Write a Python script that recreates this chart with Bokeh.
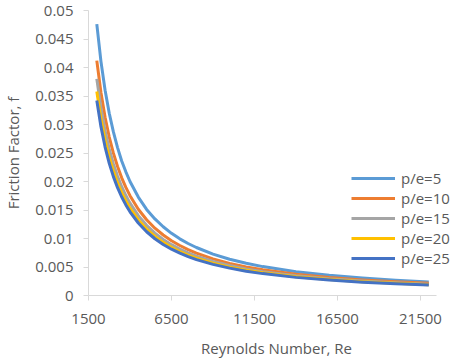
from bokeh.plotting import figure
from bokeh.models import Range1d, FixedTicker, Legend, LegendItem
from bokeh.embed import file_html
from bokeh.resources import INLINE

reynolds = [2000, 2250, 2500, 2750, 3000, 3250, 3500, 3750, 4000, 4500, 5000, 5500,
            6000, 6500, 7000, 7500, 8000, 9000, 10000, 11000, 12000, 14000, 16000,
            18000, 20000, 22000]
pe5 = [0.0476, 0.04108, 0.0360, 0.03197, 0.0287, 0.02595, 0.0236, 0.02170, 0.0200,
       0.01727, 0.0151, 0.01344, 0.01206, 0.01091, 0.00994, 0.00912, 0.00842, 0.00726,
       0.00637, 0.00565, 0.00507, 0.00418, 0.00354, 0.00305, 0.00268, 0.00238]
pe10 = [0.0412, 0.03562, 0.03128, 0.02780, 0.02497, 0.02262, 0.02064, 0.01896, 0.01751,
        0.01513, 0.01329, 0.01181, 0.01061, 0.00961, 0.00877, 0.00805, 0.00744, 0.00643,
        0.00564, 0.00502, 0.00451, 0.00372, 0.00316, 0.00273, 0.00240, 0.00213]
pe15 = [0.0380, 0.03287, 0.02888, 0.02568, 0.02308, 0.02091, 0.01909, 0.01754, 0.01620,
        0.01401, 0.01231, 0.01095, 0.00984, 0.00892, 0.00814, 0.00748, 0.00691, 0.00597,
        0.00525, 0.00467, 0.00419, 0.00347, 0.00294, 0.00255, 0.00224, 0.00199]
pe20 = [0.0358, 0.03099, 0.02724, 0.02423, 0.02179, 0.01975, 0.01804, 0.01658, 0.01532,
        0.01326, 0.01165, 0.01037, 0.00932, 0.00845, 0.00771, 0.00709, 0.00655, 0.00567,
        0.00498, 0.00444, 0.00399, 0.00330, 0.00280, 0.00243, 0.00213, 0.00190]
pe25 = [0.0342, 0.02962, 0.02605, 0.02319, 0.02086, 0.01892, 0.01728, 0.01589, 0.01468,
        0.01272, 0.01118, 0.00996, 0.00895, 0.00812, 0.00742, 0.00682, 0.00630, 0.00546,
        0.00480, 0.00427, 0.00384, 0.00318, 0.00271, 0.00234, 0.00206, 0.00183]
series_names = ["p/e=5", "p/e=10", "p/e=15", "p/e=20", "p/e=25"]
series_values = [pe5, pe10, pe15, pe20, pe25]
colors = ["#5B9BD5", "#ED7D31", "#A5A5A5", "#FFC000", "#4472C4"]
x_ticks = [1500, 6500, 11500, 16500, 21500]
y_ticks = [0, 0.005, 0.01, 0.015, 0.02, 0.025, 0.03, 0.035, 0.04, 0.045, 0.05]
y_tick_labels = {0: "0", 0.005: "0.005", 0.01: "0.01", 0.015: "0.015", 0.02: "0.02",
                 0.025: "0.025", 0.03: "0.03", 0.035: "0.035", 0.04: "0.04",
                 0.045: "0.045", 0.05: "0.05"}

FONT = "Open Sans"
TXT = "#595959"
AX = "#D9D9D9"

p = figure(frame_width=376, frame_height=285, output_backend="svg",
           toolbar_location=None, x_range=Range1d(1500, 24151), y_range=Range1d(0, 0.05),
           min_border_left=82, min_border_top=10, min_border_bottom=51, min_border_right=0)
p.outline_line_color = None
p.background_fill_color = "white"
p.border_fill_color = "white"
p.xgrid.visible = False
p.ygrid.visible = False

items = []
for name, vals, c in zip(series_names, series_values, colors):
    r = p.line(reynolds, vals, line_color=c, line_width=3, line_join="round")
    items.append(LegendItem(label=name, renderers=[r]))

legend = Legend(items=items, location=(263, 27))
legend.background_fill_alpha = 0
legend.border_line_color = None
legend.padding = 0
legend.margin = 0
legend.spacing = 0
legend.glyph_width = 44
legend.glyph_height = 18
legend.label_height = 18
legend.label_standoff = 6
legend.label_text_font = FONT
legend.label_text_font_size = "15px"
legend.label_text_color = TXT
p.add_layout(legend, "center")

for ax in (p.xaxis[0], p.yaxis[0]):
    ax.axis_line_color = AX
    ax.major_tick_line_color = AX
    ax.minor_tick_line_color = None
    ax.major_tick_out = 5
    ax.major_tick_in = 0
    ax.major_label_text_font = FONT
    ax.major_label_text_font_size = "15px"
    ax.major_label_text_color = TXT
    ax.axis_label_text_font = FONT
    ax.axis_label_text_font_size = "15px"
    ax.axis_label_text_color = TXT
    ax.axis_label_text_font_style = "normal"
    ax.major_label_standoff = 10

p.xaxis.major_label_standoff = 13
p.xaxis.bounds = (1500, 22460)
p.xaxis.ticker = FixedTicker(ticks=x_ticks)
p.yaxis.ticker = FixedTicker(ticks=y_ticks)
p.yaxis.major_label_overrides = y_tick_labels
p.xaxis.axis_label = "Reynolds Number, Re"
p.yaxis.axis_label = "Friction Factor, f"
p.xaxis.axis_label_standoff = 11
p.yaxis.axis_label_standoff = 9

open("out.html", "w").write(file_html(p, INLINE))
